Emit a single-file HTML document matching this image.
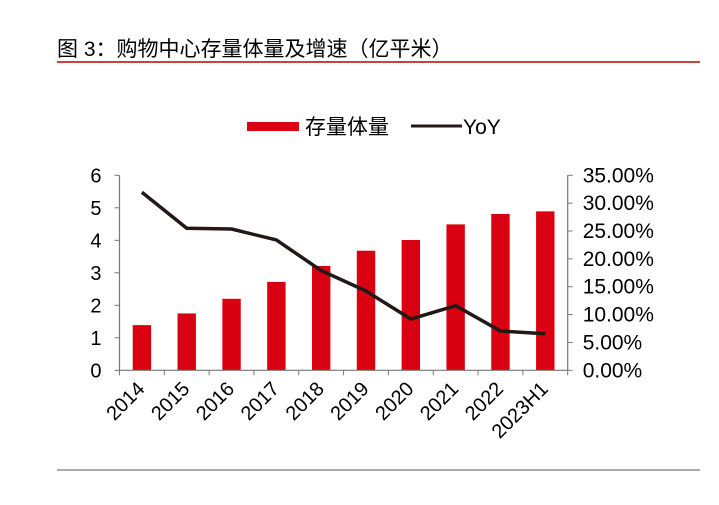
<!DOCTYPE html>
<html><head><meta charset="utf-8"><style>
body{margin:0;background:#fff;width:719px;height:500px;overflow:hidden}
svg text{font-family:"Liberation Sans","Noto Sans CJK SC",sans-serif;fill:#000}
</style></head><body>
<svg id="c" width="719" height="500" xmlns="http://www.w3.org/2000/svg">
<text x="57" y="56" font-size="21">图 3：购物中心存量体量及增速（亿平米）</text>
<line x1="57" y1="62" x2="700" y2="62" stroke="#c00000" stroke-width="1.5"/>
<line x1="57" y1="470" x2="700" y2="470" stroke="#555" stroke-width="1"/>
<rect x="247" y="122" width="52" height="9" fill="#d90012"/>
<text x="305" y="134" font-size="21">存量体量</text>
<line x1="411" y1="126" x2="462" y2="126" stroke="#231815" stroke-width="3"/>
<text x="463" y="134" font-size="21">YoY</text>
<g id="g"></g>
</svg>
<script>
const categories=["2014","2015","2016","2017","2018","2019","2020","2021","2022","2023H1"];
const stock=[1.39,1.75,2.2,2.72,3.21,3.68,4.01,4.49,4.81,4.89];
const yoy=[31.95,25.5,25.36,23.39,17.9,14.23,9.2,11.6,7.05,6.57];
const leftTicks=[0,1,2,3,4,5,6];
const rightTicks=["0.00%","5.00%","10.00%","15.00%","20.00%","25.00%","30.00%","35.00%"];
const L=119.5,R=567.7,T=175.3,B=370.3;
const ns="http://www.w3.org/2000/svg",g=document.getElementById('g');
const bw=(R-L)/categories.length;
const xC=i=>L+bw*(i+0.5);
const yL=v=>B-(B-T)*v/6;
const yR=v=>B-(B-T)*v/35;
function mk(t,a){const e=document.createElementNS(ns,t);for(const k in a)e.setAttribute(k,a[k]);g.appendChild(e);return e;}
stock.forEach((v,i)=>{const r=mk('rect',{x:xC(i)-9.2,y:yL(v),width:18.4,height:B-yL(v),fill:'#d90012'});

});
const ax=mk('path',{d:`M${L},${T}V${B}H${R}V${T}`,fill:'none',stroke:'#777','stroke-width':1.2});


leftTicks.forEach(v=>{mk('line',{x1:L-5,x2:L,y1:yL(v),y2:yL(v),stroke:'#777'});
const t=mk('text',{x:L-18,y:yL(v)+7,'text-anchor':'end','font-size':20});t.textContent=v;

});
rightTicks.forEach((s,i)=>{const y=yR(i*5);mk('line',{x1:R,x2:R+5,y1:y,y2:y,stroke:'#777'});
const t=mk('text',{x:R+15,y:y+7,'font-size':21});t.textContent=s;

});
categories.forEach((c,i)=>{const x=L+bw*i;mk('line',{x1:x,x2:x,y1:B,y2:B+5,stroke:'#777'});
if(i==categories.length-1)mk('line',{x1:R,x2:R,y1:B,y2:B+5,stroke:'#777'});
const cx=xC(i)+4,cy=390;const t=mk('text',{x:cx,y:cy,'text-anchor':'end','font-size':20,transform:`rotate(-45 ${cx} ${cy})`});t.textContent=c;

});
const ln=mk('polyline',{points:yoy.map((v,i)=>xC(i)+','+yR(v)).join(' '),fill:'none',stroke:'#231815','stroke-width':3.5,'stroke-linejoin':'round'});


</script>
</body></html>
